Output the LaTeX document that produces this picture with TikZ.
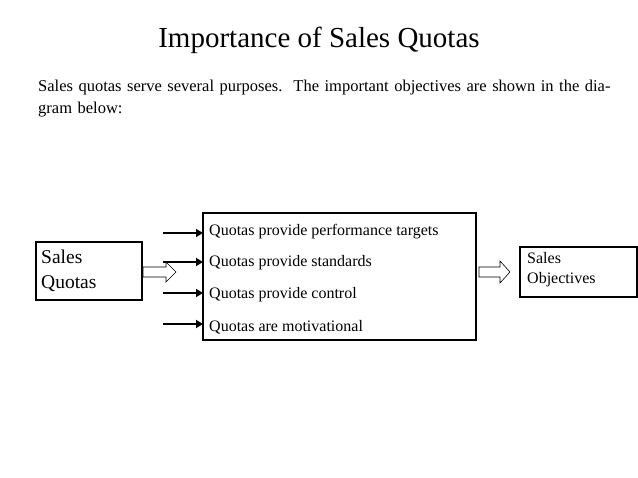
\documentclass[tikz,border=0pt]{standalone}
\usepackage{fontspec}
\setmainfont{Liberation Serif}
\usetikzlibrary{arrows.meta}
\begin{document}
\begin{tikzpicture}[x=1pt,y=-1pt,
  box/.style={draw,line width=1.3pt},
  item/.style={anchor=west,font=\fontsize{16}{18}\selectfont,inner sep=0pt},
  feed/.style={line width=2.2pt,-{Triangle[length=7pt,width=8pt]}},
  hollow/.style={draw,line width=0.6pt,fill=white}]
\useasboundingbox (0,0) rectangle (638,478);
\node[font=\fontsize{29}{32}\selectfont] (title) at (319,40) {Importance of Sales Quotas};
\node[anchor=north west,text width=580pt,inner sep=0pt,font=\fontsize{16.5}{22}\selectfont] (intro) at (38,80)
 {Sales quotas serve several purposes.\ \ The important objectives are shown in the diagram below:};
\draw[box] (36,242) rectangle (142,300);
\node[anchor=north west,align=left,inner sep=0pt,font=\fontsize{19.5}{25}\selectfont] (sq) at (41,250) {Sales\\Quotas};
\draw[box] (203,213) rectangle (476,340);
\node[item] (i1) at (209,232) {Quotas provide performance targets};
\node[item] (i2) at (209,263) {Quotas provide standards};
\node[item] (i3) at (209,295) {Quotas provide control};
\node[item] (i4) at (209,327) {Quotas are motivational};
\foreach \y in {233,262,293,324}{
  \coordinate (s\y) at (163,\y); \coordinate (e\y) at (203,\y);
  \draw[feed] (s\y) -- (e\y);}
\draw[hollow] (143,267) -- (166,267) -- (166,262) -- (176,272) -- (166,282) -- (166,277) -- (143,277) -- cycle;
\draw[hollow] (479,267) -- (500,267) -- (500,261) -- (510,272) -- (500,283) -- (500,277) -- (479,277) -- cycle;
\draw[box] (520,247) -- (637,247) -- (637,297) -- (520,297) -- cycle;
\node[anchor=north west,align=left,inner sep=0pt,font=\fontsize{16}{20}\selectfont] (so) at (527,252) {Sales\\Objectives};
\end{tikzpicture}
\end{document}
